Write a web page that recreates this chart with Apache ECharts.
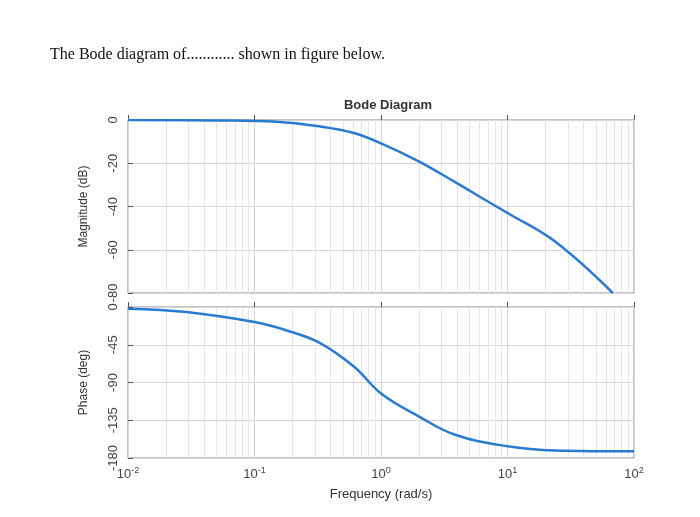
<!DOCTYPE html>
<html><head><meta charset="utf-8">
<script src="https://cdn.jsdelivr.net/npm/echarts@6/dist/echarts.min.js"></script>
<style>html,body{margin:0;background:#fff}#c{width:700px;height:517px}</style>
</head><body><div id="c"></div>
<script>
const magFreq = [0.01, 0.05, 0.15, 0.33, 0.61, 1, 1.97, 3.8, 7.0, 10, 23.5, 68];
const magDb   = [0, -0.2, -0.8, -3, -6, -10.8, -19, -28.5, -37.7, -43, -56, -80];
const phFreq  = [0.01, 0.029, 0.1, 0.18, 0.33, 0.61, 1, 1.97, 3.8, 10, 23.5, 100];
const phDeg   = [-2, -6, -18, -28, -43, -71, -103, -130, -152, -166, -171, -172];
const col = '#2a7bd0';
const xFmt = v => { const e = Math.round(Math.log10(v)); return '10{s|' + e + '}'; };
const xAxisBase = (idx, showLabels) => ({
  type: 'log', gridIndex: idx, min: 0.01, max: 100, logBase: 10,
  axisLine: {show: false}, axisTick: {show: true, inside: true, length: 5, lineStyle:{color:'#555'}},
  axisLabel: {show: showLabels, formatter: xFmt, color: '#444', fontSize: 13, fontFamily: 'Liberation Sans',
    rich: {s: {fontSize: 9, verticalAlign: 'top', padding:[0,0,8,0], color:'#444'}}},
  splitLine: {show: true, lineStyle: {color: '#d6d6d6'}},
  minorTick: {show: false, splitNumber: 9},
  minorSplitLine: {show: true, lineStyle: {color: '#e6e6e6'}},
  name: showLabels ? 'Frequency (rad/s)' : '', nameLocation: 'middle', nameGap: 30,
  nameTextStyle: {fontSize: 13, color: '#333', fontFamily: 'Liberation Sans'}
});
const yAxisBase = (idx, min, max, interval, name) => ({
  type: 'value', gridIndex: idx, min, max, interval,
  axisLine: {show: false}, axisTick: {show: true, inside: true, length: 5, lineStyle:{color:'#555'}},
  axisLabel: {rotate: 90, color: '#444', fontSize: 13, fontFamily: 'Liberation Sans'},
  splitLine: {show: true, lineStyle: {color: '#d6d6d6'}},
  name, nameLocation: 'middle', nameGap: 38, nameRotate: 90,
  nameTextStyle: {fontSize: 12, color: '#333', fontFamily: 'Liberation Sans'}
});
const chart = echarts.init(document.getElementById('c'));
chart.setOption({
  backgroundColor: '#fff',
  title: [
    {text: 'The Bode diagram of............ shown in figure below.', left: 45, top: 42,
     textStyle: {fontFamily: 'Liberation Serif', fontWeight: 'normal', fontSize: 16, color: '#111'}},
    {text: 'Bode Diagram', left: 383, top: 94, textAlign: 'center',
     textStyle: {fontFamily: 'Liberation Sans', fontWeight: 'bold', fontSize: 13, color: '#333'}}
  ],
  grid: [
    {left: 128, top: 120, width: 506, height: 173, show: true, borderColor: '#888', borderWidth: 1},
    {left: 128, top: 307, width: 506, height: 151, show: true, borderColor: '#888', borderWidth: 1}
  ],
  xAxis: [xAxisBase(0, false), xAxisBase(1, true)],
  yAxis: [yAxisBase(0, -80, 0, 20, 'Magnitude (dB)'), yAxisBase(1, -180, 0, 45, 'Phase (deg)')],
  series: [
    {type: 'line', xAxisIndex: 0, yAxisIndex: 0, smooth: 0.4, symbol: 'none',
     lineStyle: {color: col, width: 2.5}, data: magFreq.map((f, i) => [f, magDb[i]])},
    {type: 'line', xAxisIndex: 1, yAxisIndex: 1, smooth: 0.4, symbol: 'none',
     lineStyle: {color: col, width: 2.5}, data: phFreq.map((f, i) => [f, phDeg[i]])}
  ]
});
</script></body></html>
